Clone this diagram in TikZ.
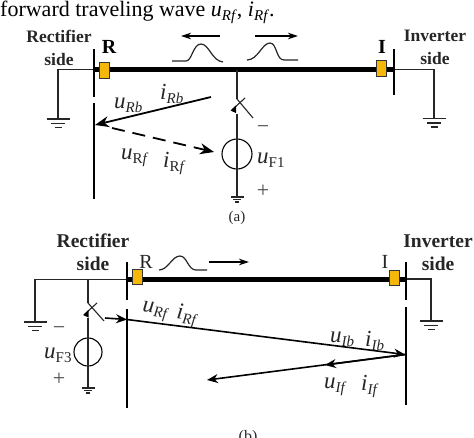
\documentclass[tikz,border=0pt]{standalone}
\usepackage{fontspec}
\setmainfont{Liberation Serif}
\usetikzlibrary{arrows.meta,calc}
\definecolor{relayc}{RGB}{245,184,10}
\tikzset{
 x=1pt,y=-1pt,
 thin line/.style={line width=1.1pt,draw=black!85},
 wave line/.style={line width=1.2pt,draw=black!85},
 bar/.style={line width=2pt},
 bus/.style={line width=5pt},
 arr/.style={line width=1.8pt,-{Stealth[length=14pt,width=11pt]}},
 thin arr/.style={line width=1.6pt,-{Stealth[length=11pt,width=9pt]}},
 small arr/.style={line width=1.2pt,-{Stealth[length=10pt,width=6.5pt]}},
 relay/.style={draw=black!80,fill=relayc,line width=1pt,minimum width=10pt,minimum height=16.5pt,inner sep=0pt},
 lab/.style={inner sep=0pt,anchor=base west,font=\fontsize{23}{23}\selectfont,text=black!85},
 sign/.style={inner sep=0pt,font=\fontsize{22}{22}\selectfont,text=black!70},
 head/.style={inner sep=0pt,font=\bfseries\fontsize{17.5}{23}\selectfont,align=center,text=black!85},
 headb/.style={inner sep=0pt,font=\bfseries\fontsize{19.5}{23}\selectfont,align=center,text=black!85},
 src/.style={draw=black,circle,line width=1.1pt,minimum size=30pt,inner sep=0pt},
 srcb/.style={draw=black,circle,line width=1.1pt,minimum size=28pt,inner sep=0pt},
 capt/.style={inner sep=0pt,text=black!85},
}
\newcommand{\gnd}[1]{\draw[thin line] ($(#1)+(-11.5,0)$) -- ++(23,0) ($(#1)+(-7,4.5)$) -- ++(14,0) ($(#1)+(-3.5,8.5)$) -- ++(7,0);}
\newcommand{\sgnd}[1]{\draw[thin line] ($(#1)+(-6.5,0)$) -- ++(13,0) ($(#1)+(-4,2.5)$) -- ++(8,0) ($(#1)+(-2,5)$) -- ++(4,0);}
\newcommand{\lsub}[2]{#1\raisebox{-0.2em}{\fontsize{15}{15}\selectfont #2}}
\begin{document}
\begin{tikzpicture}
\useasboundingbox (0,0) rectangle (474,437);
\fill[white] (0,0) rectangle (474,437);
\node[anchor=base west,inner sep=0pt,font=\fontsize{22}{22}\selectfont] (title) at (0,16) {forward traveling wave \lsub{\textit{u}}{\textit{Rf}}, \lsub{\textit{i}}{\textit{Rf}}.};
% (a)
\node[head] (recA) at (59,47.5) {Rectifier\\side};
\node[head] (invA) at (435,47.5) {Inverter\\side};
\node[inner sep=0pt,font=\bfseries\fontsize{20}{20}\selectfont] (Ra) at (109,47) {R};
\node[inner sep=0pt,font=\bfseries\fontsize{20}{20}\selectfont] (Ia) at (382,47) {I};
\coordinate (gA1c) at (58,69.5); \coordinate (gA1) at (58,119);
\coordinate (gA2c) at (434,69.5); \coordinate (gA2) at (434,118.5);
\coordinate (ba1) at (94,49); \coordinate (ba1b) at (94,97);
\coordinate (ba2) at (94,103); \coordinate (ba2b) at (94,199);
\coordinate (bb1) at (394,49); \coordinate (bb2) at (394,95);
\draw[thin line] (ba1|-gA1c) -- (gA1c) -- (gA1);
\draw[thin line] (bb1|-gA2c) -- (gA2c) -- (gA2);
\gnd{gA1}\gnd{gA2}
\draw[bus] (ba1|-gA1c) -- (bb1|-gA1c);
\draw[bar] (ba1) -- (ba1b) (ba2) -- (ba2b) (bb1) -- (bb2);
\node[relay] (r1) at (104,70.5) {};
\node[relay] (r2) at (381,68.5) {};
\draw[wave line] (172,61) -- (186,61) .. controls (192,61) and (193,44) .. (201,44) .. controls (209,44) and (212,61) .. (223,62);
\draw[wave line] (247,60) .. controls (258,60) and (262,43) .. (270,43) .. controls (277,43) and (276,60) .. (284,60) -- (298,60);
\coordinate (al1) at (220,36); \coordinate (al2) at (181,36);
\coordinate (ar1) at (255,36); \coordinate (ar2) at (298,36);
\draw[small arr] (al1) -- (al2);
\draw[small arr] (ar1) -- (ar2);
% fault a
\node[src] (sa) at (237,154) {};
\coordinate (ftop) at (237,70); \coordinate (sw0) at (237,99);
\coordinate (sw3) at (237,114); \coordinate (gA3) at (237,197);
\draw[thin line] (ftop) -- (sw0) (sw3) -- (gA3);
\coordinate (sw1) at (253,118);
\draw[thin line] (sw0) -- (sw1);
\coordinate (sw4) at (245,98); \coordinate (sw5) at (233,109);
\draw[thin line] (sw4) -- (sw5);
\fill (230.5,110.5) -- (236,105.5) -- (236,113) -- cycle;
\sgnd{gA3}
\node[sign] (minusA) at (263,130) {−};
\node[sign] (plusA) at (263,191) {+};
\node[lab] (uF1) at (257,163) {\lsub{\textit{u}}{F1}};
\coordinate (a1s) at (211,97); \coordinate (a1e) at (95,125);
\draw[arr] (a1s) -- (a1e);
\coordinate (a2s) at (112,128); \coordinate (a2e) at (214,152);
\draw[arr,dash pattern=on 13pt off 8pt] (a2s) -- (a2e);
\node[lab] (uRb) at (114,108) {\lsub{\textit{u}}{\textit{Rb}}};
\node[lab] (iRb) at (160,99) {\lsub{\textit{i}}{\textit{Rb}}};
\node[lab] (uRf) at (121,159) {\lsub{\textit{u}}{R\textit{f}}};
\node[lab] (iRf) at (163,167) {\lsub{\textit{i}}{R\textit{f}}};
\node[capt,font=\fontsize{15}{15}\selectfont] (capa) at (237,218) {(a)};
% (b)
\node[headb] (recB) at (93,252.5) {Rectifier\\side};
\node[headb] (invB) at (438,252.5) {Inverter\\side};
\node[inner sep=0pt,font=\fontsize{20}{20}\selectfont,text=black!85] (Rb) at (146,262) {R};
\node[inner sep=0pt,font=\fontsize{20}{20}\selectfont,text=black!85] (Ib) at (385,262) {I};
\coordinate (c1) at (127,262); \coordinate (c1b) at (127,300);
\coordinate (c2) at (127,309); \coordinate (c2b) at (127,408);
\coordinate (d1) at (406,262); \coordinate (d1b) at (406,300);
\coordinate (d2) at (406,307); \coordinate (d2b) at (406,405);
\coordinate (gB1c) at (35,279.5); \coordinate (gB1) at (35,322);
\coordinate (gB2c) at (431,279); \coordinate (gB2) at (431,321);
\draw[thin line] (c1|-gB1c) -- (gB1c) -- (gB1);
\draw[thin line] (d1|-gB2c) -- (gB2c) -- (gB2);
\gnd{gB1}\gnd{gB2}
\draw[bus,line width=4.5pt] (c1|-gB1c) -- (d1|-gB1c);
\draw[bar] (c1) -- (c1b) (c2) -- (c2b) (d1) -- (d1b) (d2) -- (d2b);
\node[relay,minimum height=15pt] (r3) at (137,277) {};
\node[relay,minimum height=15pt] (r4) at (394,278) {};
\draw[wave line] (159,270) .. controls (168,270) and (172,256) .. (180,256) .. controls (187,256) and (188,270) .. (196,270) -- (207,270);
\coordinate (bl1) at (209,262); \coordinate (bl2) at (249,262);
\draw[small arr] (bl1) -- (bl2);
\node[srcb] (sb) at (88,352) {};
\coordinate (fb) at (88,280); \coordinate (sw6) at (88,303);
\coordinate (sw7) at (88,318); \coordinate (gB3) at (88,388);
\draw[thin line] (fb) -- (sw6) (sw7) -- (gB3);
\coordinate (sw8) at (104,321); \coordinate (sw9) at (97,303); \coordinate (sw10) at (86,313);
\draw[thin line] (sw6) -- (sw8) (sw9) -- (sw10);
\fill (83,315) -- (88.5,310) -- (88.5,317.5) -- cycle;
\sgnd{gB3}
\node[sign] (minusB) at (59,331) {−};
\node[sign] (plusB) at (59,379) {+};
\node[lab] (uF3) at (44,358) {\lsub{\textit{u}}{F3}};
\coordinate (p1) at (105,318); \coordinate (p2) at (127,319.5);
\coordinate (p3) at (405,354.5); \coordinate (p4) at (325,365); \coordinate (p5) at (207,380);
\draw[thin arr] (p1) -- (p2);
\draw[thin arr] (p2) -- (p3);
\draw[thin arr] (p3) -- (p5);
\draw[thin arr] (p3) -- (p4);
\node[lab,rotate=-7] (uRfb) at (142,311) {\lsub{\textit{u}}{\textit{Rf}}};
\node[lab,rotate=-7] (iRfb) at (176,318) {\lsub{\textit{i}}{\textit{Rf}}};
\node[lab] (uIb) at (330,342) {\lsub{\textit{u}}{\textit{Ib}}};
\node[lab] (iIb) at (365,346) {\lsub{\textit{i}}{\textit{Ib}}};
\node[lab] (uIf) at (324,388) {\lsub{\textit{u}}{\textit{If}}};
\node[lab] (iIf) at (361,390) {\lsub{\textit{i}}{\textit{If}}};
\node[capt,font=\fontsize{16}{16}\selectfont] (capb) at (248,438) {(b)};
\end{tikzpicture}
\end{document}
